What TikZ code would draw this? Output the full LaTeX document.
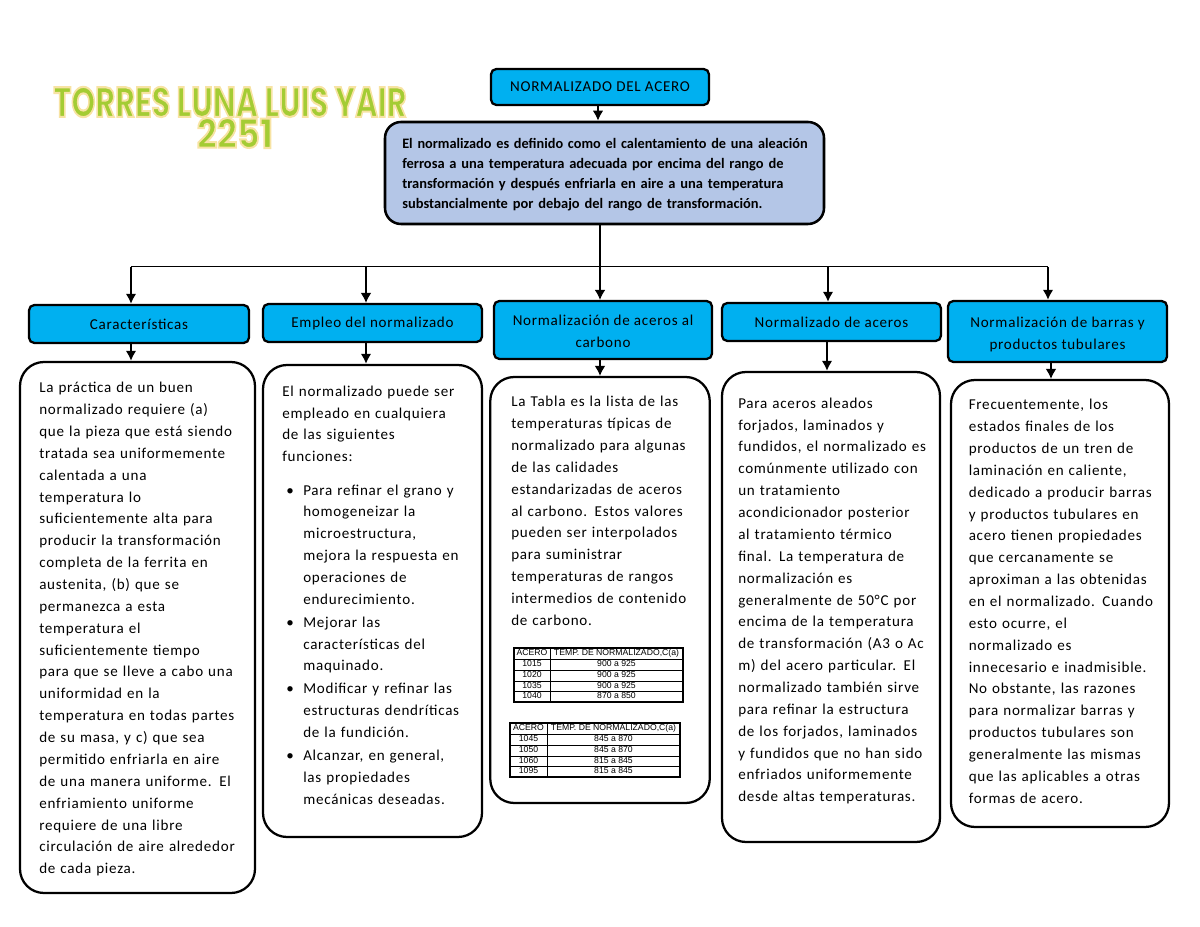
\documentclass[tikz,border=0pt]{standalone}
\usepackage{fontspec}
\setmainfont[LetterSpace=5]{Carlito}
\newfontfamily\deffont{Carlito}
\newfontfamily\titlefont{Poppins}
\newfontfamily\tablefont{Liberation Sans}
\usetikzlibrary{arrows.meta}
\definecolor{headblue}{HTML}{00B0F0}
\definecolor{defblue}{HTML}{B4C6E7}
\definecolor{titlegreen}{HTML}{A4CC34}
\newcommand\jl[2]{\makebox[#1][s]{#2}}
\newcommand\bl{\makebox[15.75pt][l]{\hspace{3pt}•}}
\newcommand\glow[1]{\special{pdf:code q 2 Tr 0.5 w 0.97 0.89 0.64 RG}#1\special{pdf:code Q}}
\tikzset{
  x=0.75pt,y=-0.75pt,
  headbox/.style={draw=black,line width=1.7pt,fill=headblue,rounded corners=4pt,align=center,
    font=\fontsize{11.3}{16.5}\selectfont,inner sep=0pt},
  defbox/.style={draw=black,line width=1.9pt,fill=defblue,rounded corners=12pt,inner sep=0pt},
  bodybox/.style={draw=black,line width=1.7pt,fill=white,rounded corners=18pt,inner sep=0pt},
  bodytext/.style={anchor=north west,inner sep=0pt,align=left,font=\fontsize{11.3}{16.4}\selectfont},
  conn/.style={line width=1.5pt,-{Latex[length=7.5pt,width=8pt]}},
  busline/.style={line width=0.75pt},
  tabtext/.style={inner sep=0pt,text height=4.7pt,text depth=1.2pt,font=\tablefont\fontsize{6.5}{7}\selectfont},
  tabline/.style={line width=0.7pt},
  tabframe/.style={line width=1pt},
}
\begin{document}
\begin{tikzpicture}
\useasboundingbox (0,0) rectangle (1200,927);
% title
\node[inner sep=0pt,text=titlegreen] (name) at (230,102)
  {\resizebox{265pt}{22.5pt}{\titlefont\bfseries\glow{TORRES LUNA LUIS YAIR}}};
\node[inner sep=0pt,text=titlegreen] (group) at (235,133)
  {\resizebox{57pt}{22.5pt}{\titlefont\bfseries\glow{2251}}};
% top boxes
\node[headbox,minimum width=163.5pt,minimum height=27pt] (top) at (600,87) {NORMALIZADO DEL ACERO};
\node[defbox,minimum width=329.25pt,minimum height=76.5pt] (def) at (604.5,173) {};
\node[anchor=north west,inner sep=0pt,align=left,text width=304pt,font=\deffont\fontsize{10.85}{15}\selectfont\bfseries] (deft) at (402,138)
 {\resizebox{304pt}{\height}{El normalizado es definido como el calentamiento de una aleación}\\
  \jl{304pt}{ferrosa a una temperatura adecuada por encima del rango de}\\
  \jl{304pt}{transformación y después enfriarla en aire a una temperatura}\\
  substancialmente por debajo del rango de transformación.};
% headers
\node[headbox,minimum width=165pt,minimum height=28.5pt] (h1) at (139,324) {Características};
\node[headbox,minimum width=164.25pt,minimum height=28.5pt] (h2) at (372.5,323) {Empleo del normalizado};
\node[headbox,minimum width=163.5pt,minimum height=43.5pt,text depth=0pt] (h3) at (603,330) {\rule{0pt}{10pt}Normalización de aceros al\\carbono};
\node[headbox,minimum width=164.25pt,minimum height=28.5pt] (h4) at (831.5,322) {Normalizado de aceros};
\node[headbox,minimum width=164.25pt,minimum height=45.75pt,text depth=0pt] (h5) at (1057.5,331.5) {\rule{0pt}{10pt}Normalización de barras y\\productos tubulares};
% bodies
\node[bodybox,minimum width=176.25pt,minimum height=398.25pt] (b1) at (137.5,627.5) {};
\node[bodybox,minimum width=164.25pt,minimum height=354pt] (b2) at (372.5,601) {};
\node[bodybox,minimum width=164.6pt,minimum height=319.5pt] (b3) at (600,590) {};
\node[bodybox,minimum width=163.5pt,minimum height=352.5pt] (b4) at (831,607) {};
\node[bodybox,minimum width=163.5pt,minimum height=335.25pt] (b5) at (1060,603.5) {};
\node[bodytext,text width=160pt] (b1t) at (39,382) {La práctica de un buen\\
normalizado requiere (a)\\
que la pieza que está siendo\\
tratada sea uniformemente\\
calentada a una\\
temperatura lo\\
suficientemente alta para\\
producir la transformación\\
completa de la ferrita en\\
austenita, (b) que se\\
permanezca a esta\\
temperatura el\\
suficientemente tiempo\\
para que se lleve a cabo una\\
uniformidad en la\\
temperatura en todas partes\\
de su masa, y c) que sea\\
permitido enfriarla en aire\\
de una manera uniforme. El\\
enfriamiento uniforme\\
requiere de una libre\\
circulación de aire alrededor\\
de cada pieza.};
\node[bodytext,text width=150pt] (b2t) at (282,385.5) {El normalizado puede ser\\
empleado en cualquiera\\
de las siguientes\\
funciones:\\[8.5pt]
\bl Para refinar el grano y\\
\hspace*{15.75pt}homogeneizar la\\
\hspace*{15.75pt}microestructura,\\
\hspace*{15.75pt}mejora la respuesta en\\
\hspace*{15.75pt}operaciones de\\
\hspace*{15.75pt}endurecimiento.\\[0.7pt]
\bl Mejorar las\\
\hspace*{15.75pt}características del\\
\hspace*{15.75pt}maquinado.\\[0.8pt]
\bl Modificar y refinar las\\
\hspace*{15.75pt}estructuras dendríticas\\
\hspace*{15.75pt}de la fundición.\\[0.8pt]
\bl Alcanzar, en general,\\
\hspace*{15.75pt}las propiedades\\
\hspace*{15.75pt}mecánicas deseadas.};
\node[bodytext,text width=135pt] (b3t) at (511,396) {\jl{135pt}{La Tabla es la lista de las}\\
\jl{135pt}{temperaturas típicas de}\\
\jl{135pt}{normalizado para algunas}\\
\jl{135pt}{de las calidades}\\
\jl{135pt}{estandarizadas de aceros}\\
\jl{135pt}{al carbono. Estos valores}\\
\jl{135pt}{pueden ser interpolados}\\
\jl{135pt}{para suministrar}\\
\jl{135pt}{temperaturas de rangos}\\
\jl{135pt}{intermedios de contenido}\\
de carbono.};
\node[bodytext,text width=150pt] (b4t) at (738,397.5) {Para aceros aleados\\
forjados, laminados y\\
fundidos, el normalizado es\\
comúnmente utilizado con\\
un tratamiento\\
acondicionador posterior\\
al tratamiento térmico\\
final. La temperatura de\\
normalización es\\
generalmente de 50°C por\\
encima de la temperatura\\
de transformación (A3 o Ac\\
m) del acero particular. El\\
normalizado también sirve\\
para refinar la estructura\\
de los forjados, laminados\\
y fundidos que no han sido\\
enfriados uniformemente\\
desde altas temperaturas.};
\node[bodytext,text width=150pt] (b5t) at (968.5,399) {Frecuentemente, los\\
estados finales de los\\
productos de un tren de\\
laminación en caliente,\\
dedicado a producir barras\\
y productos tubulares en\\
acero tienen propiedades\\
que cercanamente se\\
aproximan a las obtenidas\\
en el normalizado. Cuando\\
esto ocurre, el\\
normalizado es\\
innecesario e inadmisible.\\
No obstante, las razones\\
para normalizar barras y\\
productos tubulares son\\
generalmente las mismas\\
que las aplicables a otras\\
formas de acero.};
% tables
\draw[tabline] (514,659) -- (683,659) (514,670) -- (683,670) (514,681) -- (683,681) (514,691) -- (683,691) (550,648) -- (550,702);
\draw[tabframe] (514,648) rectangle (683,702);
\draw[tabline] (510,734) -- (680,734) (510,745) -- (680,745) (510,756) -- (680,756) (510,766) -- (680,766) (547,723) -- (547,777);
\draw[tabframe] (510,723) rectangle (680,777);
\node[tabtext] (ta0) at (532,653.5) {ACERO};
\node[tabtext] (tb0) at (616.5,653.5) {TEMP. DE NORMALIZADO,C(a)};
\node[tabtext] (ta1) at (532,664.5) {1015};
\node[tabtext] (tb1) at (616.5,664.5) {900 a 925};
\node[tabtext] (ta2) at (532,675.5) {1020};
\node[tabtext] (tb2) at (616.5,675.5) {900 a 925};
\node[tabtext] (ta3) at (532,686) {1035};
\node[tabtext] (tb3) at (616.5,686) {900 a 925};
\node[tabtext] (ta4) at (532,696.5) {1040};
\node[tabtext] (tb4) at (616.5,696.5) {870 a 850};
\node[tabtext] (tc0) at (528.5,728.5) {ACERO};
\node[tabtext] (td0) at (613.5,728.5) {TEMP. DE NORMALIZADO,C(a)};
\node[tabtext] (tc1) at (528.5,739.5) {1045};
\node[tabtext] (td1) at (613.5,739.5) {845 a 870};
\node[tabtext] (tc2) at (528.5,750.5) {1050};
\node[tabtext] (td2) at (613.5,750.5) {845 a 870};
\node[tabtext] (tc3) at (528.5,761) {1060};
\node[tabtext] (td3) at (613.5,761) {815 a 845};
\node[tabtext] (tc4) at (528.5,771.5) {1095};
\node[tabtext] (td4) at (613.5,771.5) {815 a 845};
% connectors
\coordinate (ax) at (598,0);
\coordinate (trunk) at (600,0);
\coordinate (busl) at (131,267);
\coordinate (bus2) at (366,267);
\coordinate (bus4) at (828,267);
\coordinate (busr) at (1048,267);
\draw[conn] (top.south -| ax) -- (def.north -| ax);
\draw[busline] (busl) -- (busr);
\draw[conn,line width=0.8pt] (def.south -| trunk) -- (h3.north -| trunk);
\draw[conn] (busl) -- (h1.north -| busl);
\draw[conn,line width=0.9pt] (bus2) -- (h2.north -| bus2);
\draw[conn] (bus4) -- (h4.north -| bus4);
\draw[conn] (busr) -- (h5.north -| busr);
\coordinate (x1) at (131,0);
\coordinate (x2) at (366,0);
\coordinate (x3) at (600,0);
\coordinate (x4) at (827,0);
\coordinate (x5) at (1051,0);
\draw[conn] (h1.south -| x1) -- (b1.north -| x1);
\draw[conn] (h2.south -| x2) -- (b2.north -| x2);
\draw[conn,line width=1pt] (h3.south -| x3) -- (b3.north -| x3);
\draw[conn] (h4.south -| x4) -- (b4.north -| x4);
\draw[conn,line width=1pt] (h5.south -| x5) -- (b5.north -| x5);
\end{tikzpicture}
\end{document}
